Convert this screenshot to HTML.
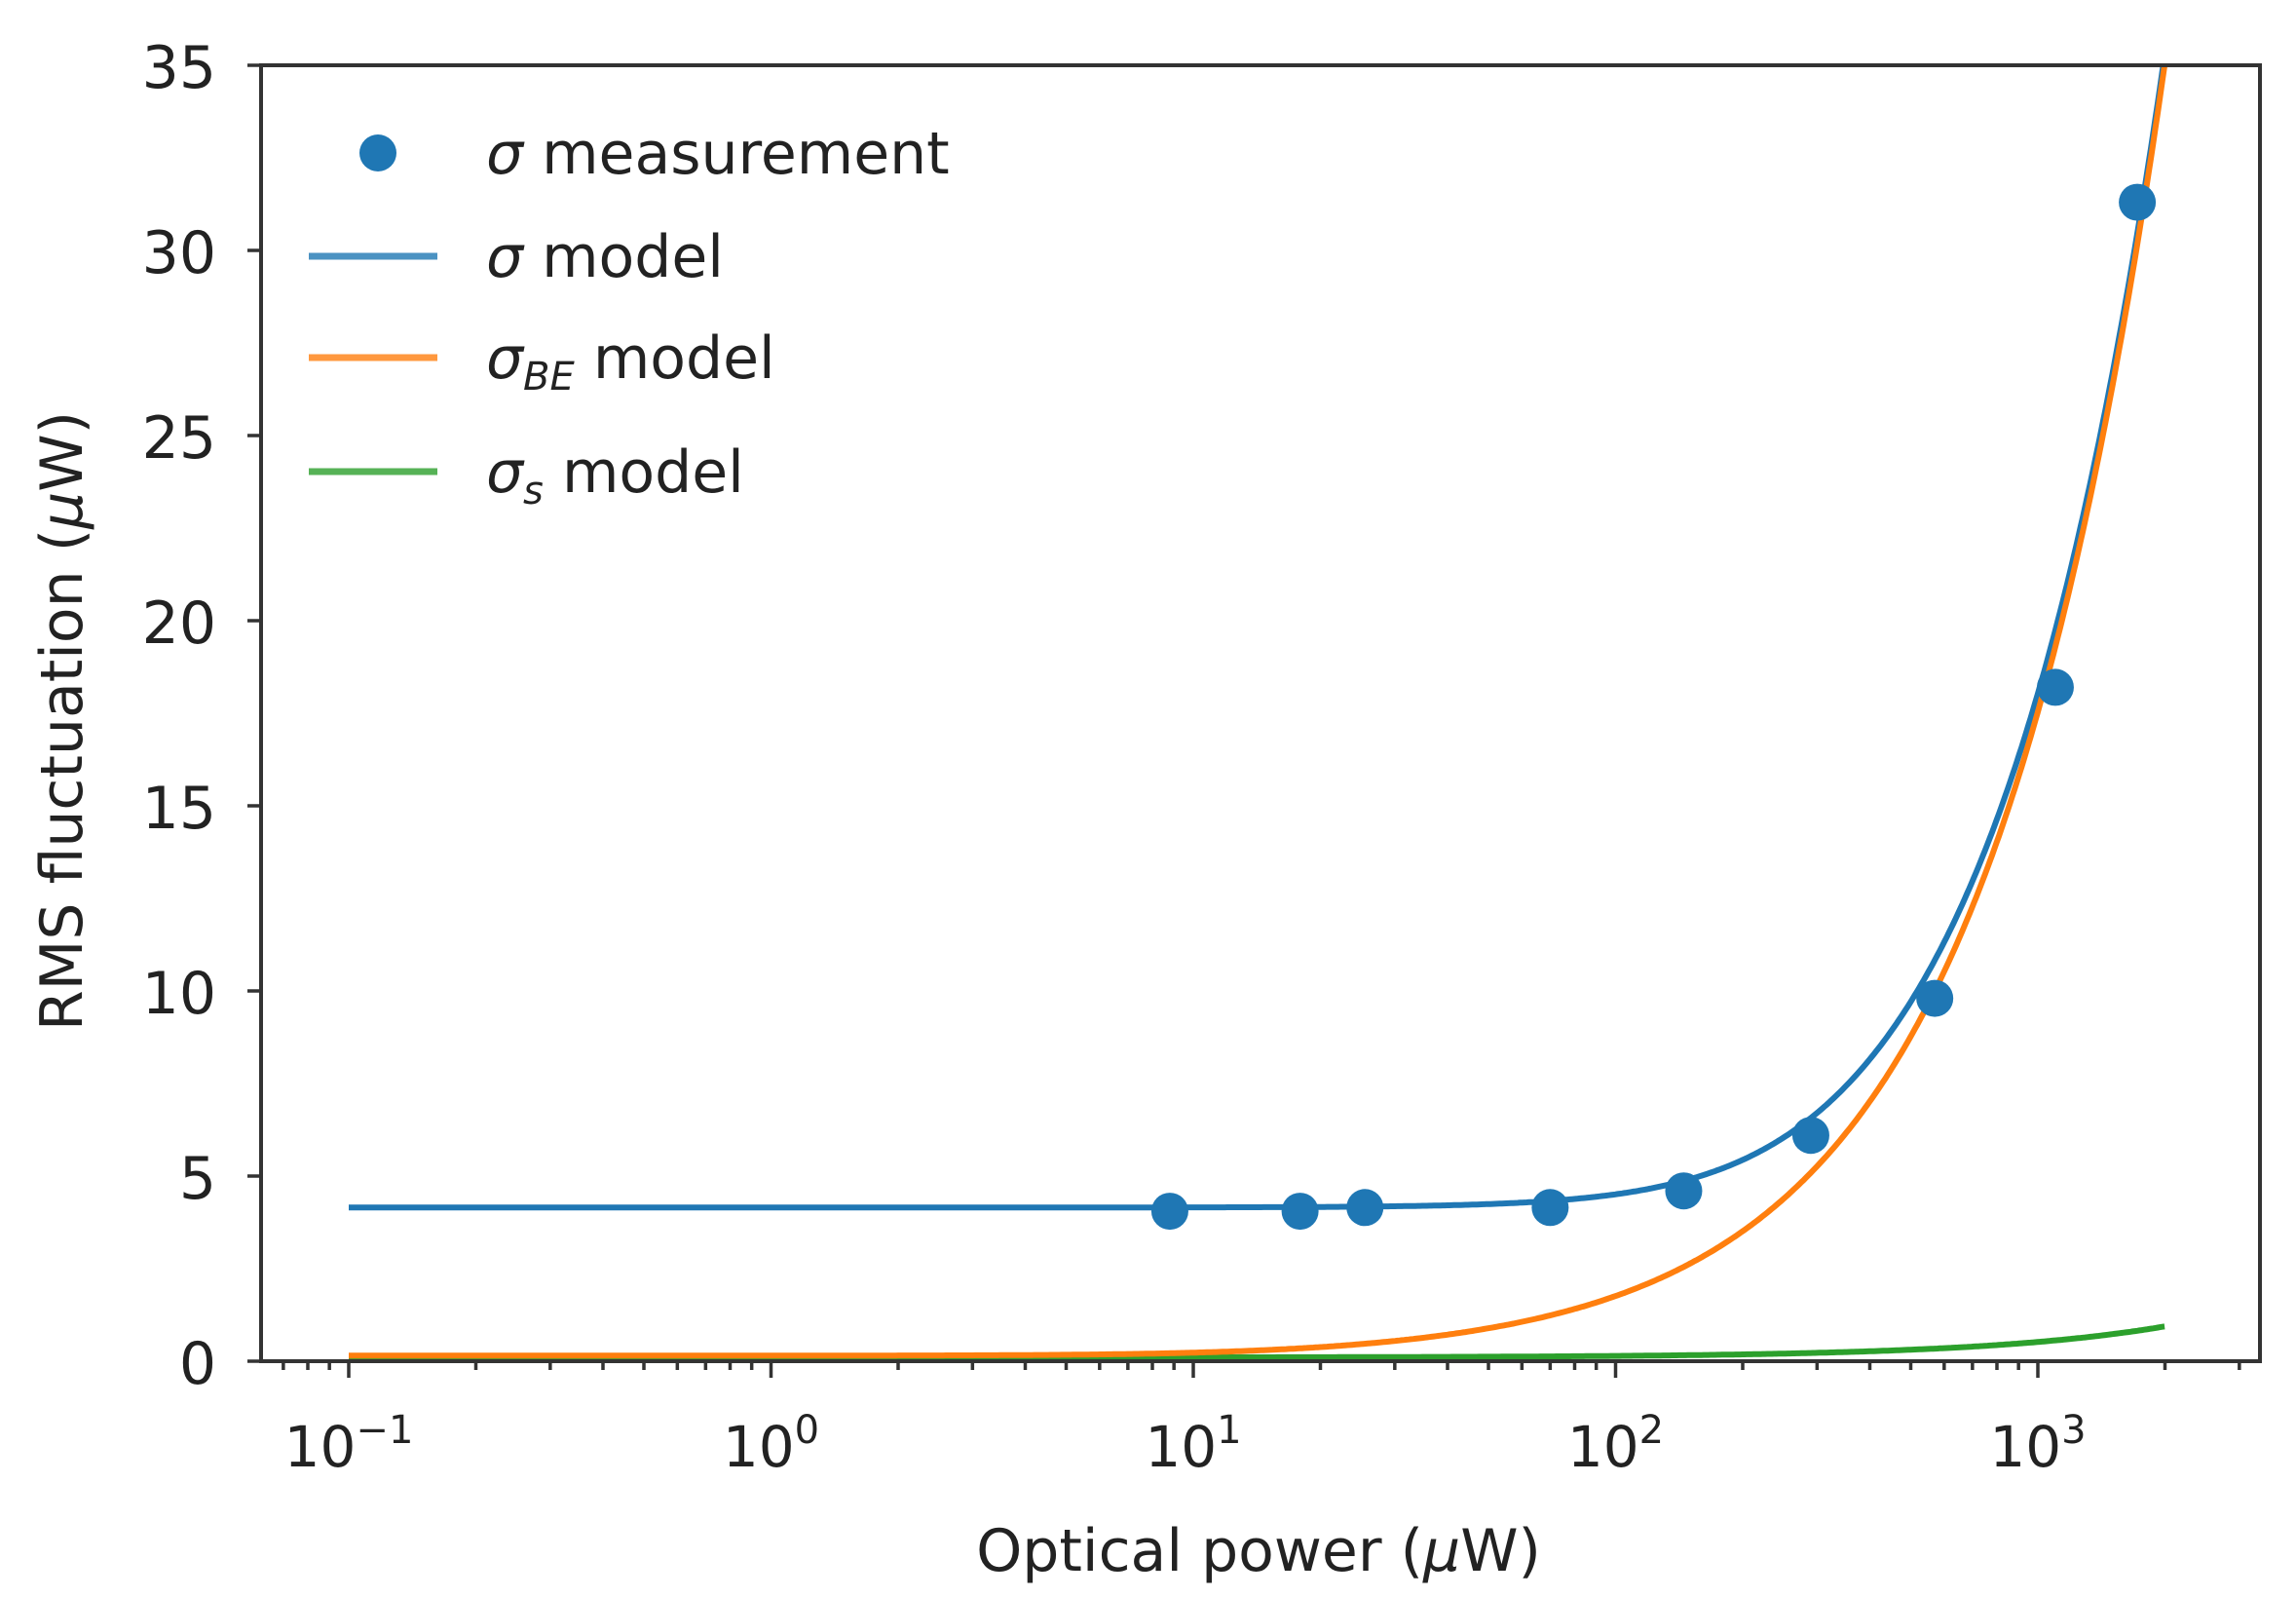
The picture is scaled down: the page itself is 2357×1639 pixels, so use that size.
<!DOCTYPE html>
<html><head><meta charset="utf-8"><style>
html,body{margin:0;padding:0;background:#fff;}
svg text{font-family:"DejaVu Sans","Liberation Sans",sans-serif;fill:#222;}
</style></head><body>
<svg id="s" width="2357" height="1634" viewBox="0 0 2357 1634" xmlns="http://www.w3.org/2000/svg">
<rect width="2357" height="1634" fill="#fff"/>
<g id="plot"></g>
<rect x="268" y="67" width="2052" height="1330" fill="none" stroke="#333" stroke-width="4"/>
<g id="ticks" stroke="#333" stroke-width="3.5"></g>
<g font-size="60" text-anchor="end">
<text x="222" y="1420">0</text><text x="222" y="1230">5</text><text x="222" y="1040">10</text>
<text x="222" y="850">15</text><text x="222" y="660">20</text><text x="222" y="470">25</text>
<text x="222" y="280">30</text><text x="222" y="90">35</text>
</g>
<g font-size="58" text-anchor="middle" id="xl"></g>
<text x="1292" y="1612" font-size="60" text-anchor="middle">Optical power (<tspan font-style="italic">μ</tspan>W)</text>
<text transform="translate(84,740) rotate(-90)" font-size="60" text-anchor="middle">RMS fluctuation (<tspan font-style="italic">μ</tspan>W)</text>
<g font-size="60">
<circle cx="388" cy="157" r="19" fill="#1f77b4"/>
<text x="499" y="178"><tspan font-style="italic">σ</tspan> measurement</text>
<line x1="317" y1="263" x2="449" y2="263" stroke="#1f77b4" stroke-width="7" opacity="0.8"/>
<text x="499" y="284"><tspan font-style="italic">σ</tspan> model</text>
<line x1="317" y1="367" x2="449" y2="367" stroke="#ff7f0e" stroke-width="7" opacity="0.8"/>
<text x="499" y="388"><tspan font-style="italic">σ</tspan><tspan font-size="40" dy="12" font-style="italic">BE</tspan><tspan dy="-12"> model</tspan></text>
<line x1="317" y1="484" x2="449" y2="484" stroke="#2ca02c" stroke-width="7" opacity="0.8"/>
<text x="499" y="505"><tspan font-style="italic">σ</tspan><tspan font-size="40" dy="12" font-style="italic">s</tspan><tspan dy="-12"> model</tspan></text>
</g>
</svg>
<script>
var NS="http://www.w3.org/2000/svg";
function X(p){return 358+(Math.log10(p)+1)*433.5;}
function Y(v){return 1397-v*38;}
var b=0.01754,a=4.15;
function g(p){return 0.1+0.00042*p;}
function o(p){return Math.sqrt(0.15*0.15+(b*p)*(b*p));}
function s(p){return Math.sqrt(a*a+(b*p)*(b*p)+g(p)*g(p));}
function path(f,col){var d="";for(var i=0;i<=800;i++){var l=-1+i*4.3/800;var p=Math.pow(10,l);var y=Y(f(p));if(y<40)y=40;d+=(i?"L":"M")+X(p).toFixed(1)+","+y.toFixed(1);}
var e=document.createElementNS(NS,"path");e.setAttribute("d",d);e.setAttribute("fill","none");e.setAttribute("stroke",col);e.setAttribute("stroke-width","6");document.getElementById("plot").appendChild(e);}
path(g,"#2ca02c");path(s,"#1f77b4");path(o,"#ff7f0e");
var pts=[[8.8,4.05],[17.9,4.05],[25.5,4.15],[70,4.15],[145,4.6],[290,6.1],[570,9.8],[1100,18.2],[1720,31.3]];
pts.forEach(function(q){var c=document.createElementNS(NS,"circle");c.setAttribute("cx",X(q[0]));c.setAttribute("cy",Y(q[1]));c.setAttribute("r","19");c.setAttribute("fill","#1f77b4");document.getElementById("plot").appendChild(c);});
var cp=document.createElementNS(NS,"clipPath");cp.id="c";var r=document.createElementNS(NS,"rect");r.setAttribute("x",268);r.setAttribute("y",67);r.setAttribute("width",2052);r.setAttribute("height",1330);cp.appendChild(r);document.getElementById("s").appendChild(cp);document.getElementById("plot").setAttribute("clip-path","url(#c)");
var T=document.getElementById("ticks");
function tk(x1,y1,x2,y2){var l=document.createElementNS(NS,"line");l.setAttribute("x1",x1);l.setAttribute("y1",y1);l.setAttribute("x2",x2);l.setAttribute("y2",y2);T.appendChild(l);}
for(var v=0;v<=35;v+=5)tk(254,Y(v),268,Y(v));
for(var e=-2;e<=3;e++){for(var m=1;m<10;m++){var p=m*Math.pow(10,e);var x=X(p);if(x<268||x>2320)continue;tk(x,1397,x,m==1?1414:1406);}}
var XL=document.getElementById("xl");
[-1,0,1,2,3].forEach(function(e){var t=document.createElementNS(NS,"text");t.setAttribute("x",X(Math.pow(10,e)));t.setAttribute("y",1505);t.innerHTML='10<tspan font-size="40" dy="-24">'+(e<0?"−1":e)+'</tspan>';XL.appendChild(t);});
</script>
</body></html>
